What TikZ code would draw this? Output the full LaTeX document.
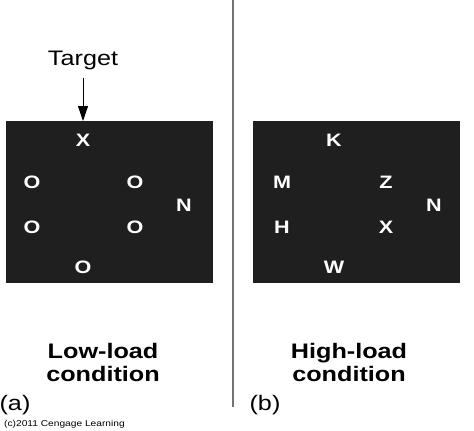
\documentclass[tikz,border=0pt]{standalone}
\usepackage{fontspec}
\setmainfont{Liberation Sans}[FakeStretch=1.2]
\usepackage{tikz}
\usetikzlibrary{arrows.meta, positioning}

\begin{document}
\begin{tikzpicture}[
    x=1pt, y=-1pt,
    panel/.style={rectangle, draw=none, fill=black!88, minimum width=207pt, minimum height=162pt, inner sep=0pt},
    letter/.style={text=white, font=\bfseries\fontsize{18}{18}\selectfont, inner sep=0pt},
    caption/.style={align=center, font=\bfseries\fontsize{21}{23}\selectfont},
    tag/.style={font=\fontsize{21}{21}\selectfont, inner sep=0pt},
    arrow/.style={-{Triangle[length=15pt, width=10pt]}, thick}
]
\useasboundingbox (0,0) rectangle (474,431);

% panels
\node[panel] (lowbox) at (109,202) {};
\node[panel] (highbox) at (356.5,202) {};

% divider
\coordinate (divtop) at (233,0);
\coordinate (divbot) at (233,407);
\draw[black!55, line width=1.6pt] (divtop) -- (divbot);

% target arrow
\node[font=\fontsize{21}{21}\selectfont, inner sep=0pt] (target) at (83,60) {Target};
\coordinate (tgtend) at (83,121);
\draw[arrow] ([yshift=-8pt]target.south) -- (tgtend);

% low-load letters
\node[letter] (lx) at (83,140) {X};
\node[letter] (lo1) at (32,182) {O};
\node[letter] (lo2) at (135,182) {O};
\node[letter] (ln) at (184,205) {N};
\node[letter] (lo3) at (32,227) {O};
\node[letter] (lo4) at (135,227) {O};
\node[letter] (lo5) at (83,267) {O};

% high-load letters
\node[letter] (hk) at (334,140) {K};
\node[letter] (hm) at (282,182) {M};
\node[letter] (hz) at (386,182) {Z};
\node[letter] (hn) at (434,205) {N};
\node[letter] (hh) at (282,227) {H};
\node[letter] (hx) at (386,227) {X};
\node[letter] (hw) at (334,267) {W};

% captions
\node[caption] (lowcap) at (103,362) {Low-load\\condition};
\node[caption] (highcap) at (349,362) {High-load\\condition};
\node[tag] (taga) at (15,405) {(a)};
\node[tag] (tagb) at (265,405) {(b)};
\node[anchor=west, inner sep=0pt, font=\fontsize{8.5}{9}\selectfont] (credit) at (4,424) {(c)2011 Cengage Learning};
\end{tikzpicture}
\end{document}
